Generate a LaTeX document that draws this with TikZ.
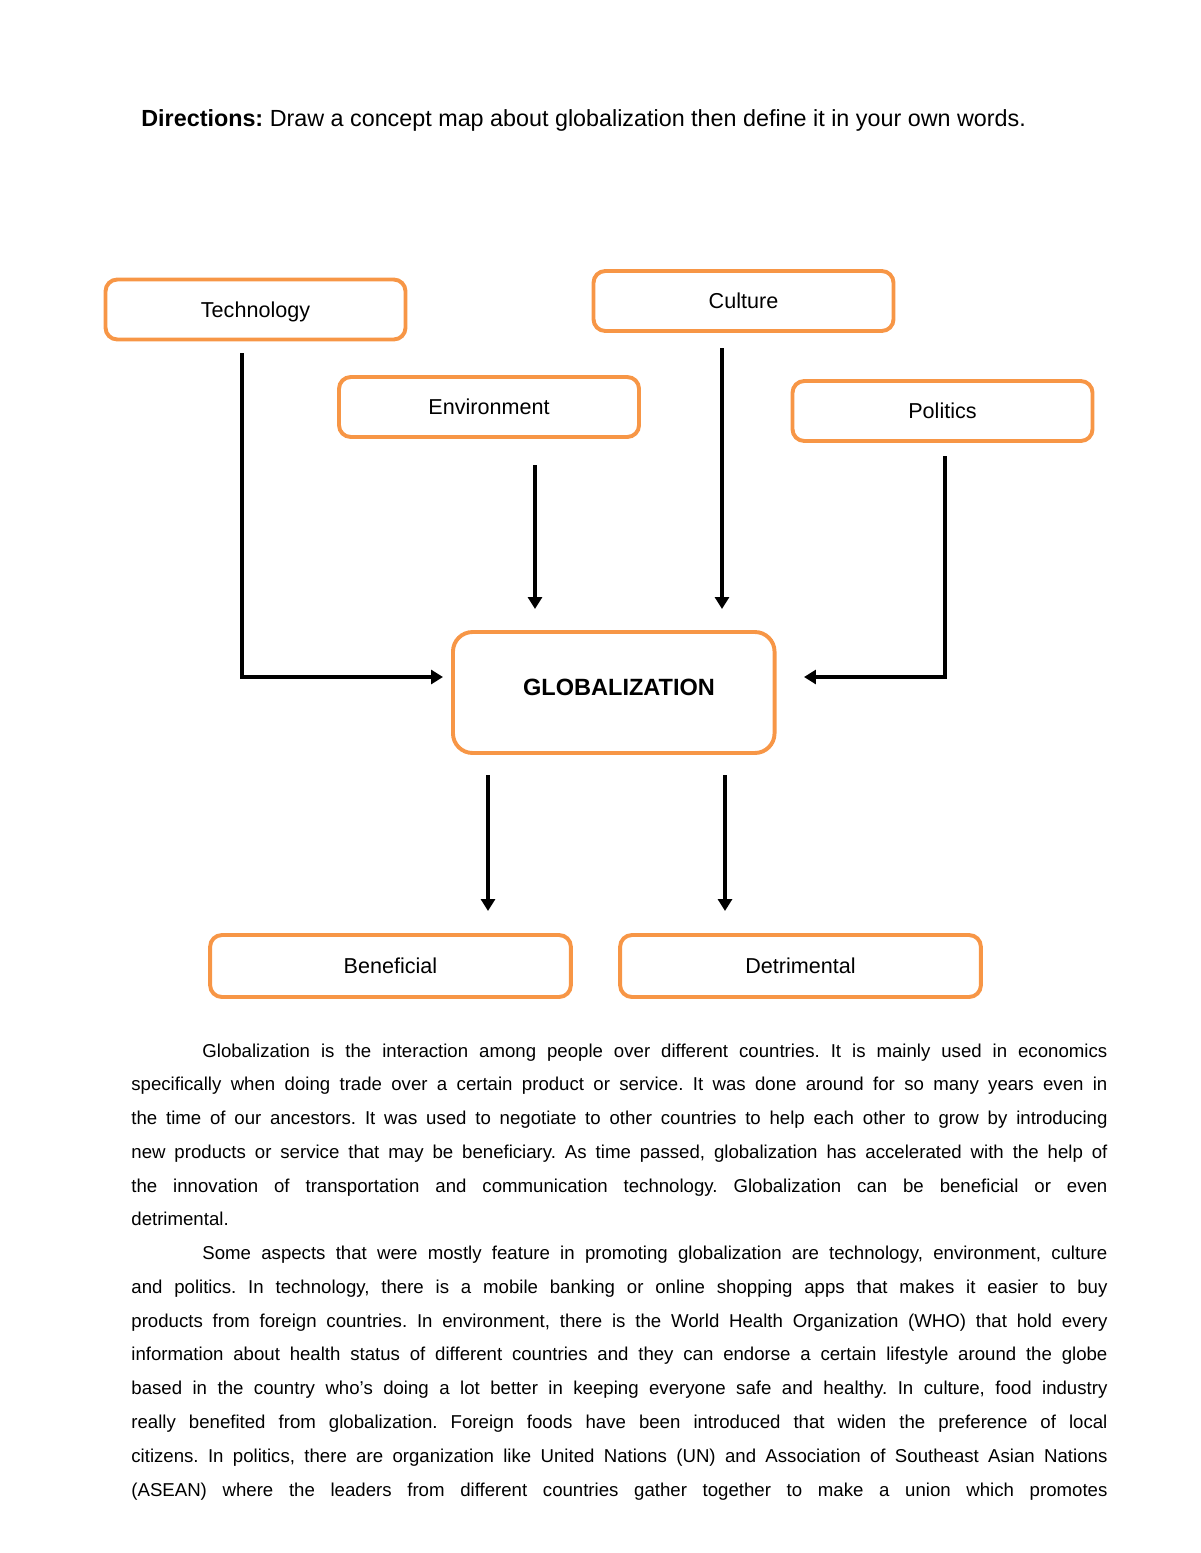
\documentclass[tikz,border=0pt]{standalone}
\usepackage{fontspec}
\setmainfont{Liberation Sans}
\usetikzlibrary{arrows.meta}
\definecolor{boxorange}{HTML}{F79646}
\frenchspacing
\newcommand{\jl}[1]{\makebox[497.8pt][s]{#1}}
\newcommand{\jlfirst}[1]{\makebox[461.5pt][s]{#1}}
\begin{document}
\begin{tikzpicture}[x=0.51pt,y=-0.51pt,
  concept/.style={draw=boxorange, line width=2pt, rounded corners=6pt, inner sep=0pt, outer sep=0pt,
    minimum width=153pt, minimum height=30.6pt, font=\fontsize{11}{13}\selectfont, text height=7.9pt, text depth=0pt},
  wide/.style={concept, minimum width=184pt, minimum height=31.6pt},
  core/.style={draw=boxorange, line width=2pt, rounded corners=10pt, inner sep=0pt, outer sep=0pt,
    minimum width=164pt, minimum height=61.7pt},
  conn/.style={draw, line width=1.8pt, -{Triangle[length=6pt,width=7pt]}},
  body/.style={font=\fontsize{9.5}{11}\selectfont, anchor=base west, inner sep=0pt}]
\useasboundingbox (0,0) rectangle (1200,1553);

% heading
\node[anchor=base west, inner sep=0pt, font=\fontsize{11.9}{14}\selectfont] (dir) at (141,127)
  {\textbf{Directions:} Draw a concept map about globalization then define it in your own words.};

% concept boxes
\node[concept] (tech) at (255.5,309.5) {Technology};
\node[concept] (cult) at (743.5,301) {Culture};
\node[concept] (env) at (489,407) {Environment};
\node[concept] (pol) at (942.5,411) {Politics};
\node[core] (glob) at (613.75,692.5) {};
\node[inner sep=0pt, font=\bfseries\fontsize{12}{14}\selectfont, text height=8.6pt, text depth=0pt] (globtext) at (619,687) {GLOBALIZATION};
\node[wide] (ben) at (390.5,966) {Beneficial};
\node[wide] (det) at (800.5,966) {Detrimental};

% connector end points (the arrows float between the boxes)
\coordinate (techA) at (242,353);
\coordinate (techB) at (242,677);
\coordinate (techC) at (443,677);
\coordinate (envA) at (535,465);
\coordinate (envB) at (535,609);
\coordinate (cultA) at (722,348);
\coordinate (cultB) at (722,609);
\coordinate (polA) at (945,456);
\coordinate (polB) at (945,677);
\coordinate (polC) at (804,677);
\coordinate (benA) at (488,775);
\coordinate (benB) at (488,911);
\coordinate (detA) at (725,775);
\coordinate (detB) at (725,911);

\draw[conn] (techA) -- (techB) -- (techC);
\draw[conn] (envA) -- (envB);
\draw[conn] (cultA) -- (cultB);
\draw[conn] (polA) -- (polB) -- (polC);
\draw[conn] (benA) -- (benB);
\draw[conn] (detA) -- (detB);

% body text
\node[body] (l1) at (202,1057) {\jlfirst{Globalization is the interaction among people over different countries. It is mainly used in economics}};
\node[body] (l2) at (131,1090.77) {\jl{specifically when doing trade over a certain product or service. It was done around for so many years even in}};
\node[body] (l3) at (131,1124.54) {\jl{the time of our ancestors. It was used to negotiate to other countries to help each other to grow by introducing}};
\node[body] (l4) at (131,1158.31) {\jl{new products or service that may be beneficiary. As time passed, globalization has accelerated with the help of}};
\node[body] (l5) at (131,1192.08) {\jl{the innovation of transportation and communication technology. Globalization can be beneficial or even}};
\node[body] (l6) at (131,1225.85) {detrimental.};
\node[body] (l7) at (202,1259.62) {\jlfirst{Some aspects that were mostly feature in promoting globalization are technology, environment, culture}};
\node[body] (l8) at (131,1293.39) {\jl{and politics. In technology, there is a mobile banking or online shopping apps that makes it easier to buy}};
\node[body] (l9) at (131,1327.16) {\jl{products from foreign countries. In environment, there is the World Health Organization (WHO) that hold every}};
\node[body] (l10) at (131,1360.93) {\jl{information about health status of different countries and they can endorse a certain lifestyle around the globe}};
\node[body] (l11) at (131,1394.7) {\jl{based in the country who's doing a lot better in keeping everyone safe and healthy. In culture, food industry}};
\node[body] (l12) at (131,1428.47) {\jl{really benefited from globalization. Foreign foods have been introduced that widen the preference of local}};
\node[body] (l13) at (131,1462.24) {\jl{citizens. In politics, there are organization like United Nations (UN) and Association of Southeast Asian Nations}};
\node[body] (l14) at (131,1496.01) {\jl{(ASEAN) where the leaders from different countries gather together to make a union which promotes}};
\end{tikzpicture}
\end{document}
